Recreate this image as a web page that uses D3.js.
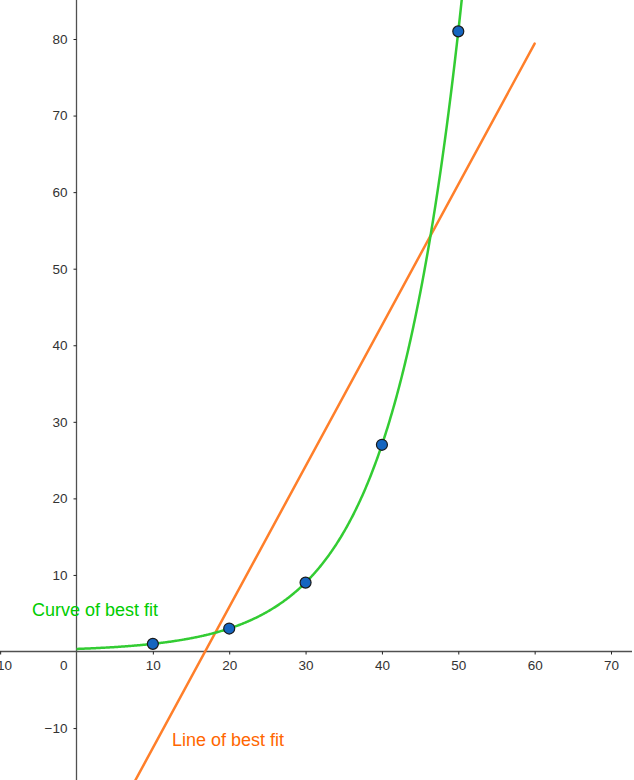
<!DOCTYPE html>
<html>
<head>
<meta charset="utf-8">
<script src="https://cdn.jsdelivr.net/npm/d3@7"></script>
<style>
  html, body { margin: 0; padding: 0; background: #fff; }
  svg { display: block; font-family: "Liberation Sans", Arial, sans-serif; }
</style>
</head>
<body>
<div id="chart"></div>
<script>
// Data points
const xValues = [10, 20, 30, 40, 50];
const yValues = [1, 3, 9, 27, 81];
// Tick labels
const xTicks = [-10, 10, 20, 30, 40, 50, 60, 70];
const yTicks = [-10, 10, 20, 30, 40, 50, 60, 70, 80];
// Fit ranges (x)
const lineRange = [0, 60];
const curveRange = [0, 52];
const labels = ["Curve of best fit", "Line of best fit"];

const W = 634, H = 780;
const svg = d3.select("#chart").append("svg").attr("width", W).attr("height", H);

const x = d3.scaleLinear().domain([0, 70]).range([76.5, 611]);
const y = d3.scaleLinear().domain([0, 80]).range([651.5, 39]);

// Linear regression
const mx = d3.mean(xValues), my = d3.mean(yValues);
let sxy = 0, sxx = 0;
xValues.forEach((xv, i) => { sxy += (xv - mx) * (yValues[i] - my); sxx += (xv - mx) ** 2; });
const slope = sxy / sxx, intercept = my - slope * mx;

// Exponential regression (ln y = a + b x)
const ly = yValues.map(v => Math.log(v));
const mly = d3.mean(ly);
let sxl = 0;
xValues.forEach((xv, i) => { sxl += (xv - mx) * (ly[i] - mly); });
const eb = sxl / sxx, ea = mly - eb * mx;
const expFit = xv => Math.exp(ea + eb * xv);

svg.append("defs").append("clipPath").attr("id", "c")
  .append("rect").attr("x", 0).attr("y", 0).attr("width", W).attr("height", H);

// Axes lines
const axisColor = "#505050";
svg.append("line").attr("x1", 0).attr("x2", 632).attr("y1", y(0)).attr("y2", y(0))
  .attr("stroke", axisColor).attr("stroke-width", 1.3);
svg.append("line").attr("x1", x(0)).attr("x2", x(0)).attr("y1", 0).attr("y2", H)
  .attr("stroke", axisColor).attr("stroke-width", 1.3);

// X axis ticks
const xAxis = d3.axisBottom(x).tickValues(xTicks).tickSize(3).tickSizeOuter(0)
  .tickFormat(d3.format("d"));
const gx = svg.append("g").attr("transform", `translate(0,${y(0)})`).call(xAxis);
gx.select(".domain").remove();
gx.selectAll(".tick line").attr("stroke", "#222");
gx.selectAll(".tick text").attr("fill", "#333").attr("font-size", 13.5)
  .attr("font-family", "Liberation Sans, Arial, sans-serif").attr("dy", "1.0em").attr("y", 5);

// Origin label
svg.append("text").attr("x", x(0) - 9).attr("y", y(0) + 18).attr("text-anchor", "end")
  .attr("fill", "#333").attr("font-size", 13.5).text("0");

// Y axis ticks
const yAxis = d3.axisLeft(y).tickValues(yTicks).tickSize(3).tickSizeOuter(0)
  .tickFormat(d3.format("d"));
const gy = svg.append("g").attr("transform", `translate(${x(0)},0)`).call(yAxis);
gy.select(".domain").remove();
gy.selectAll(".tick line").attr("stroke", "#222");
gy.selectAll(".tick text").attr("fill", "#333").attr("font-size", 13.5)
  .attr("font-family", "Liberation Sans, Arial, sans-serif").attr("x", -9);

// Line of best fit
const plot = svg.append("g").attr("clip-path", "url(#c)");
plot.append("line")
  .attr("x1", x(lineRange[0])).attr("y1", y(slope * lineRange[0] + intercept))
  .attr("x2", x(lineRange[1])).attr("y2", y(slope * lineRange[1] + intercept))
  .attr("stroke", "#ff7f2a").attr("stroke-width", 2.5).attr("stroke-linecap", "round");

// Curve of best fit
const samples = d3.range(curveRange[0], curveRange[1] + 0.001, 0.1);
plot.append("path").datum(samples)
  .attr("d", d3.line().x(d => x(d)).y(d => y(expFit(d))))
  .attr("fill", "none").attr("stroke", "#33cc33").attr("stroke-width", 2.5);

// Points
plot.selectAll("circle").data(xValues).join("circle")
  .attr("cx", d => x(d)).attr("cy", (d, i) => y(yValues[i])).attr("r", 5.5)
  .attr("fill", "#1565c0").attr("stroke", "#1a1a1a").attr("stroke-width", 1.2);

// Labels
svg.append("text").attr("x", 32).attr("y", 615.5).attr("fill", "#00cc00")
  .attr("font-size", 18).text(labels[0]);
svg.append("text").attr("x", 172).attr("y", 746).attr("fill", "#ff6600")
  .attr("font-size", 18).text(labels[1]);
</script>
</body>
</html>
